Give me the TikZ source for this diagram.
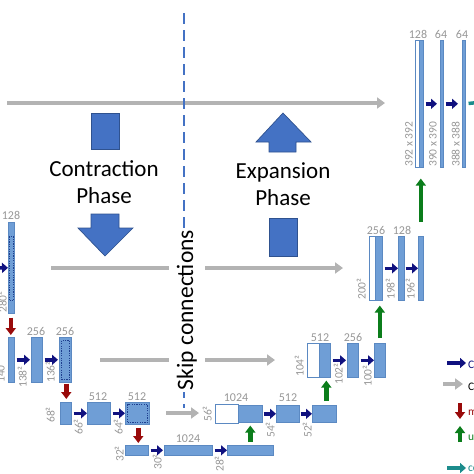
\documentclass[tikz,border=0pt]{standalone}
\usepackage{fontspec}
\setmainfont{Carlito}
\usetikzlibrary{arrows.meta}
\definecolor{barfill}{HTML}{6F9ED6}
\definecolor{barline}{HTML}{5B89C2}
\definecolor{navyc}{HTML}{10117F}
\definecolor{redc}{HTML}{990A0A}
\definecolor{greenc}{HTML}{0B7D1B}
\definecolor{tealc}{HTML}{1C8C8C}
\definecolor{grayc}{HTML}{B3B3B3}
\definecolor{labelc}{HTML}{979797}
\definecolor{phasec}{HTML}{4472C4}
\definecolor{phaseline}{HTML}{2F528F}
\definecolor{dotc}{HTML}{1F3F8F}
\newcommand\UBar[6]{\node[#6, anchor=north west, minimum width={(#4-#2)*1pt}, minimum height={(#5-#3)*1pt}] (#1) at (#2,#3) {};}
\begin{document}
\begin{tikzpicture}[x=1pt,y=-1pt,
  bar/.style={draw=barline, fill=barfill, line width=0.6pt, inner sep=0pt, rectangle},
  wbar/.style={draw=barline, fill=white, line width=0.6pt, inner sep=0pt, rectangle},
  dotbox/.style={draw=dotc, line width=1pt, dash pattern=on 1.2pt off 1.2pt, fill=none, inner sep=0pt, rectangle},
  conv/.style={navyc, line width=3.5pt, -{Triangle[length=6pt,width=10pt]}},
  copyc/.style={grayc, line width=4.5pt, -{Triangle[length=8pt,width=11pt]}},
  pool/.style={redc, line width=4.5pt, -{Triangle[length=7pt,width=10pt]}},
  upc/.style={greenc, line width=4.5pt, -{Triangle[length=7pt,width=10pt]}},
  outc/.style={tealc, line width=3.5pt, -{Triangle[length=6pt,width=10pt]}},
  num/.style={labelc, font=\fontsize{12}{12}\selectfont, inner sep=0pt, anchor=base},
  dim/.style={labelc, font=\fontsize{11.5}{12}\selectfont, inner sep=0pt, rotate=90, anchor=south west},
  skipline/.style={phasec, line width=2.8pt, dash pattern=on 11pt off 6pt},
  skiptext/.style={rotate=90, anchor=base, fill=white, inner xsep=2pt, inner ysep=8pt, font=\fontsize{23.5}{27}\selectfont},
  phasetext/.style={align=center, font=\fontsize{23}{27}\selectfont, inner sep=0pt},
  phaseshape/.style={fill=phasec, draw=phaseline, line width=0.7pt},
  legtext/.style={anchor=base west, font=\fontsize{11.5}{12}\selectfont, inner sep=0pt}
]
\useasboundingbox (0,0) rectangle (474,474);
\clip (0,0) rectangle (474,474);

% copy-and-crop (skip) connections
\coordinate (g1s) at (7,103);   \coordinate (g1e) at (385,103);
\coordinate (g2s) at (51,268);  \coordinate (g2e) at (343,268);
\coordinate (g3s) at (100,360); \coordinate (g3e) at (275,360);
\coordinate (g4s) at (166,413); \coordinate (g4e) at (199,413);
\draw[copyc] (g1s) -- (g1e);
\draw[copyc] (g2s) -- (g2e);
\draw[copyc] (g3s) -- (g3e);
\draw[copyc] (g4s) -- (g4e);

% dashed divider
\coordinate (d1) at (184,13); \coordinate (d2) at (184,408);
\draw[skipline] (d1) -- (d2);
\node[skiptext] (skip) at (193,310) {Skip connections};

% phase symbols and texts
\node[phaseshape, anchor=north west, minimum width=28pt, minimum height=36pt, inner sep=0pt] (csq) at (91,113) {};
\node[phasetext] (ctext) at (104,182) {Contraction\\Phase};
\path[phaseshape] (91,214) -- (119,214) -- (119,228) -- (133,228) -- (105,256) -- (78,228) -- (91,228) -- cycle;
\path[phaseshape] (283,113) -- (311,142) -- (296,142) -- (296,152) -- (269,152) -- (269,142) -- (256,142) -- cycle;
\node[phasetext] (etext) at (283,184) {Expansion\\Phase};
\node[phaseshape, anchor=north west, minimum width=28pt, minimum height=38pt, inner sep=0pt] (esq) at (269,218) {};

% contracting path
\UBar{L1}{8}{222}{14}{313}{bar}
\UBar{L1d}{9}{236}{13}{300}{dotbox}
\UBar{L2a}{8}{337}{14}{382}{bar}
\UBar{L2b}{31}{337}{42}{382}{bar}
\UBar{L2c}{59}{337}{71}{382}{bar}
\UBar{L2d}{61}{340}{69}{379}{dotbox}
\UBar{L3a}{60}{402}{71}{424}{bar}
\UBar{L3b}{87}{402}{110}{424}{bar}
\UBar{L3c}{125}{402}{149}{424}{bar}
\UBar{L3d}{127}{404}{147}{422}{dotbox}
\UBar{B1}{125}{445}{148}{455}{bar}
\UBar{B2}{164}{445}{212}{455}{bar}
\UBar{B3}{227}{445}{273}{455}{bar}

% expanding path
\UBar{R3w}{215}{404}{238}{423}{wbar}
\UBar{R3a}{238}{405}{262}{422}{bar}
\UBar{R3b}{276}{405}{299}{422}{bar}
\UBar{R3c}{312}{405}{336}{422}{bar}
\UBar{R2w}{307}{343}{319}{377}{wbar}
\UBar{R2a}{319}{343}{330}{377}{bar}
\UBar{R2b}{347}{343}{358}{377}{bar}
\UBar{R2c}{374}{343}{385}{377}{bar}
\UBar{R1w}{369}{236}{375}{300}{wbar}
\UBar{R1a}{375}{236}{382}{300}{bar}
\UBar{R1b}{398}{236}{404}{300}{bar}
\UBar{R1c}{418}{236}{423}{300}{bar}
\UBar{Tw}{415}{40}{419}{167}{wbar}
\UBar{Ta}{419}{40}{423}{167}{bar}
\UBar{Tb}{440}{40}{443}{167}{bar}
\UBar{Tc}{462}{40}{465}{167}{bar}

% channel numbers
\node[num] (n1) at (11,219) {128};
\node[num] (n2) at (36,335) {256};
\node[num] (n3) at (65,335) {256};
\node[num] (n4) at (98,400) {512};
\node[num] (n5) at (137,400) {512};
\node[num] (n6) at (188,442) {1024};
\node[num] (n7) at (236,401) {1024};
\node[num] (n8) at (288,401) {512};
\node[num] (n9) at (320,341) {512};
\node[num] (n10) at (353,341) {256};
\node[num] (n11) at (376,234) {256};
\node[num] (n12) at (402,234) {128};
\node[num] (n13) at (418,38) {128};
\node[num] (n14) at (441,38) {64};
\node[num] (n15) at (462,38) {64};

% sizes
\node[dim] (s1) at (7,313) {280²};
\node[dim] (s2) at (5,383) {140²};
\node[dim] (s3) at (27,388) {138²};
\node[dim] (s4) at (55,383) {136²};
\node[dim] (s5) at (55,423) {68²};
\node[dim] (s6) at (83,435) {66²};
\node[dim] (s7) at (123,435) {64²};
\node[dim] (s8) at (124,462) {32²};
\node[dim] (s9) at (162,470) {30²};
\node[dim] (s10) at (224,472) {28²};
\node[dim] (s11) at (212,422) {56²};
\node[dim] (s12) at (275,438) {54²};
\node[dim] (s13) at (312,438) {52²};
\node[dim] (s14) at (304,377) {104²};
\node[dim] (s15) at (343,385) {102²};
\node[dim] (s16) at (372,387) {100²};
\node[dim] (s17) at (366,300) {200²};
\node[dim] (s18) at (395,300) {198²};
\node[dim] (s19) at (415,300) {196²};
\node[dim] (s20) at (413,167) {392 x 392};
\node[dim] (s21) at (437,167) {390 x 390};
\node[dim] (s22) at (460,167) {388 x 388};

% conv arrows
\coordinate (inL1) at (-8,268);
\draw[conv] (inL1) -- (L1.west);
\draw[conv, shorten <=2pt, shorten >=1pt] (L2a.east) -- (L2b.west);
\draw[conv, shorten <=2pt, shorten >=1pt] (L2b.east) -- (L2c.west);
\draw[conv, shorten <=2pt, shorten >=0pt] (L3a.east) -- (L3b.west);
\draw[conv, shorten <=2pt, shorten >=0pt] (L3b.east) -- (L3c.west);
\draw[conv, shorten <=2pt, shorten >=1pt] (B1.east) -- (B2.west);
\draw[conv, shorten <=2pt, shorten >=0pt] (B2.east) -- (B3.west);
\draw[conv, shorten <=1pt, shorten >=0pt] (R3a.east) -- (R3b.west);
\draw[conv, shorten <=1pt, shorten >=0pt] (R3b.east) -- (R3c.west);
\draw[conv, shorten <=2pt, shorten >=1pt] (R2a.east) -- (R2b.west);
\draw[conv, shorten <=2pt, shorten >=0pt] (R2b.east) -- (R2c.west);
\draw[conv, shorten <=2pt, shorten >=0pt] (R1a.east) -- (R1b.west);
\draw[conv, shorten <=1pt, shorten >=0pt] (R1b.east) -- (R1c.west);
\draw[conv, shorten <=2pt, shorten >=3pt] (Ta.east) -- (Tb.west);
\draw[conv, shorten <=2pt, shorten >=4pt] (Tb.east) -- (Tc.west);
\coordinate (outT) at (482,102);
\draw[outc, shorten <=3pt] (Tc.east) -- (outT);

% max pool arrows
\draw[pool, shorten <=4pt, shorten >=2pt] (L1.south) ++(-0.5,0) coordinate (p1a) -- (p1a |- L2a.north);
\draw[pool, shorten <=1pt, shorten >=3pt] (L2c.south) ++(1,0) coordinate (p2a) -- (p2a |- L3a.north);
\draw[pool, shorten <=3pt, shorten >=2pt] (L3c.south) ++(1,0) coordinate (p3a) -- (p3a |- B1.north);

% up-conv arrows
\draw[upc, shorten <=3pt, shorten >=3pt] (B3.north) -- (B3.north |- R3a.south);
\draw[upc, shorten <=4pt, shorten >=3pt] (R3c.north) ++(2,0) coordinate (u2a) -- (u2a |- R2a.south);
\draw[upc, shorten <=5pt, shorten >=5pt] (R2c.north) -- (R2c.north |- R1a.south);
\draw[upc, shorten <=14pt, shorten >=11pt] (R1c.north) -- (R1c.north |- Ta.south);

% legend
\coordinate (la1) at (447,363); \coordinate (lb1) at (466,363);
\coordinate (la2) at (443,384); \coordinate (lb2) at (463,384);
\coordinate (la3) at (460,403); \coordinate (lb3) at (460,419);
\coordinate (la4) at (460,442); \coordinate (lb4) at (460,426);
\coordinate (la5) at (447,468); \coordinate (lb5) at (466,468);
\draw[conv] (la1) -- (lb1);
\draw[copyc] (la2) -- (lb2);
\draw[pool] (la3) -- (lb3);
\draw[upc] (la4) -- (lb4);
\draw[outc] (la5) -- (lb5);
\node[legtext, navyc] (lt1) at (468,368) {Conv 3x3, ReLU};
\node[legtext, black] (lt2) at (468,390) {Copy and crop};
\node[legtext, redc] (lt3) at (468,415) {max pool 2x2};
\node[legtext, greenc] (lt4) at (468,440) {up-conv 2x2};
\node[legtext, tealc] (lt5) at (468,471) {conv 1x1};
\end{tikzpicture}
\end{document}
